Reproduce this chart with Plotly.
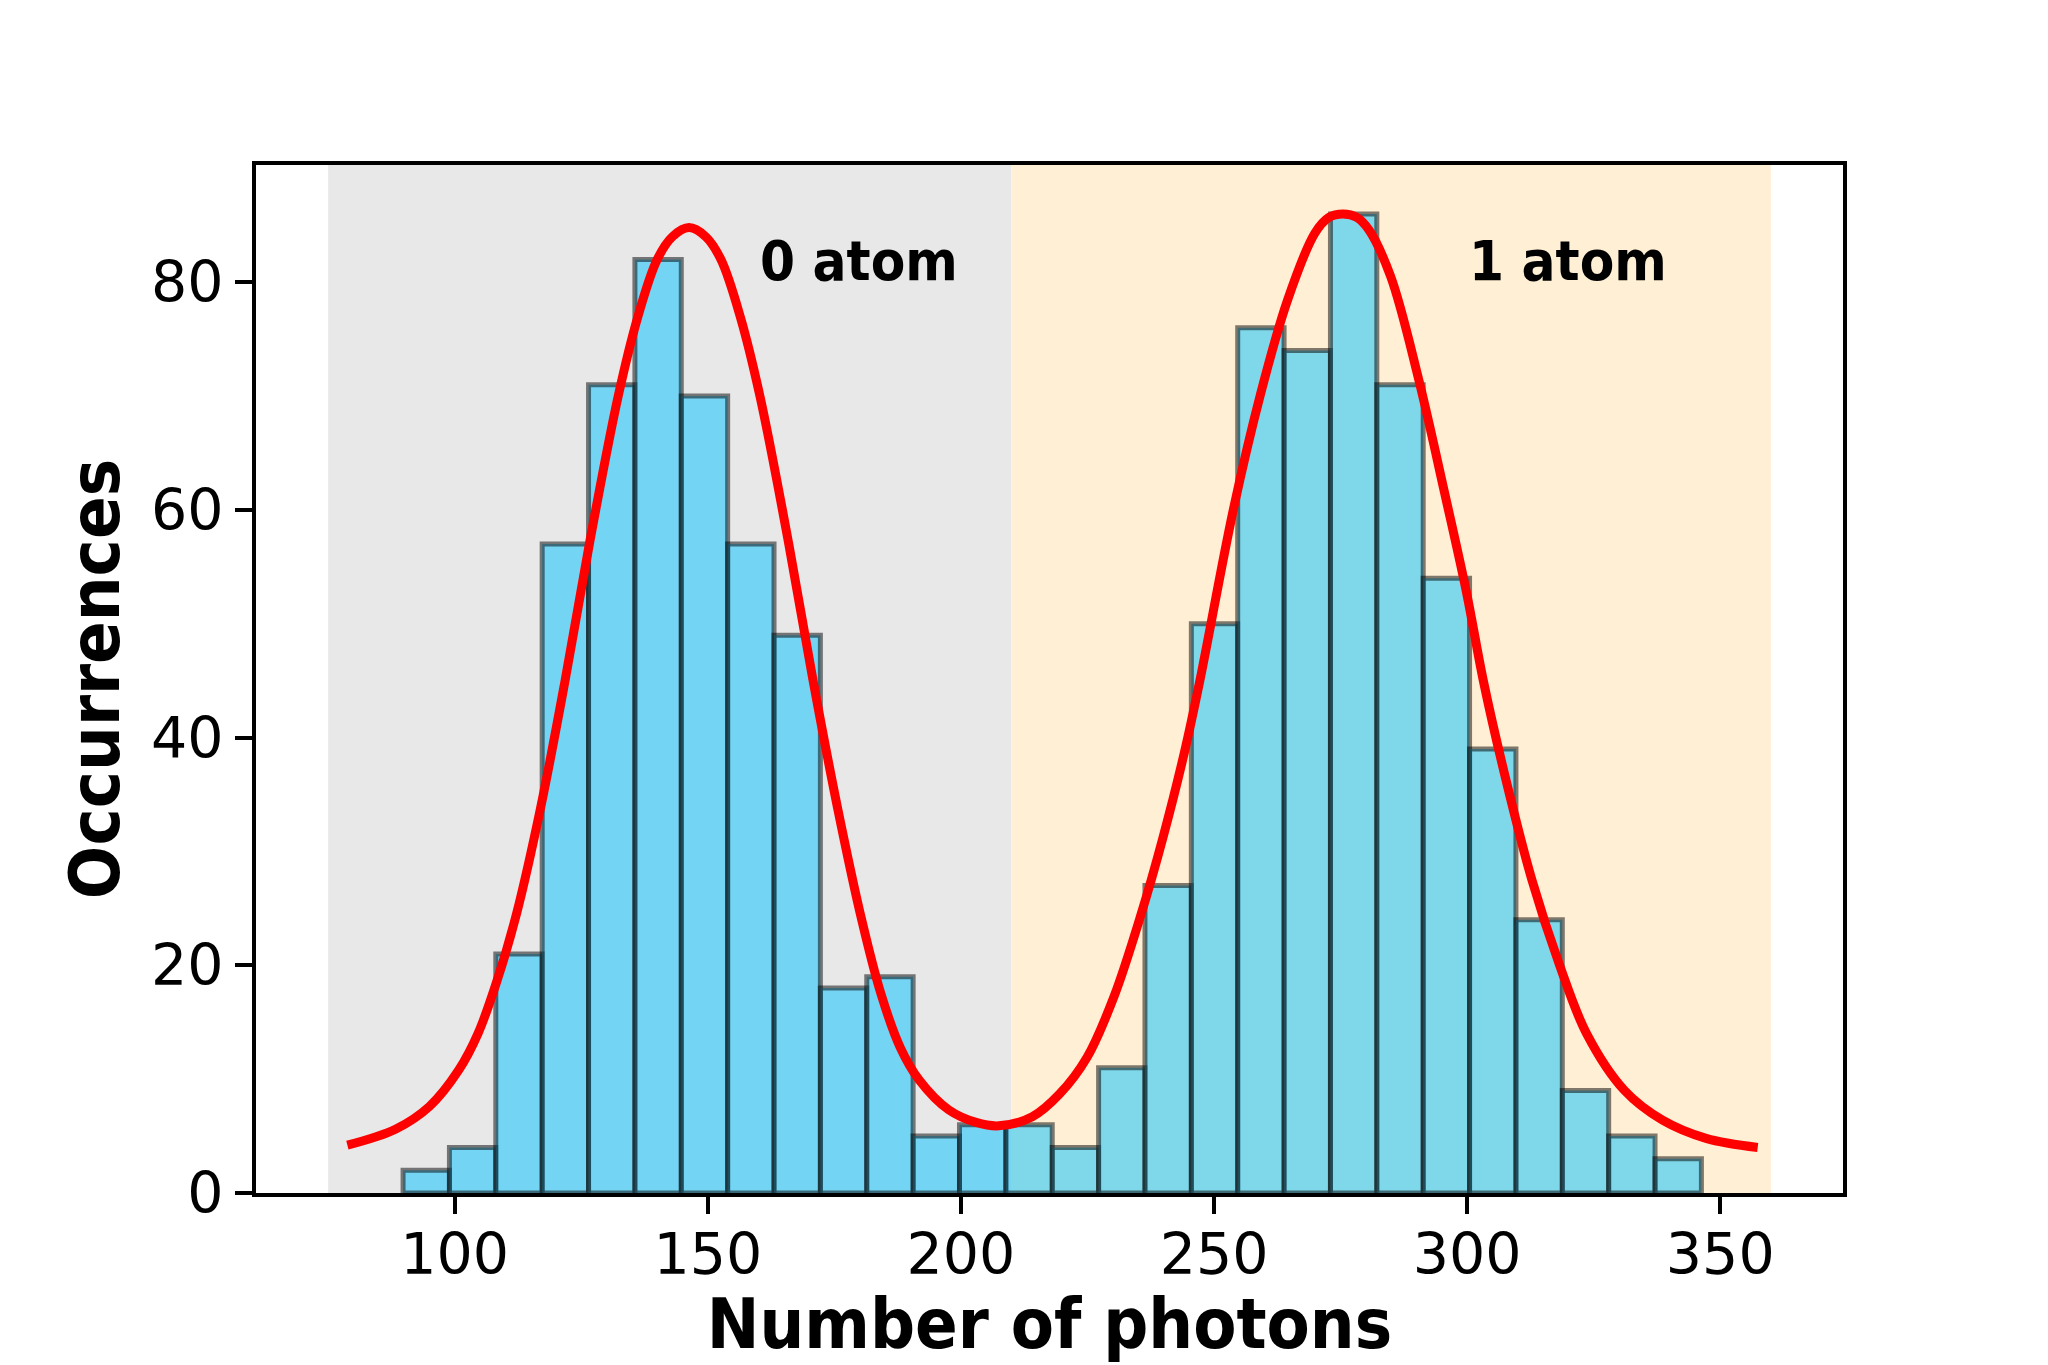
import plotly.graph_objects as go

# ---------------- data ----------------
bin_edges = [89.8, 98.96, 108.12, 117.28, 126.44, 135.6, 144.76, 153.92, 163.08,
             172.24, 181.4, 190.56, 199.72, 208.88, 218.04, 227.2, 236.36, 245.52,
             254.68, 263.84, 273.0, 282.16, 291.32, 300.48, 309.64, 318.8, 327.96,
             337.12, 346.28]
counts = [2, 4, 21, 57, 71, 82, 70, 57, 49, 18, 19, 5, 6, 6, 4, 11, 27, 50,
          76, 74, 86, 71, 54, 39, 24, 9, 5, 3]

fit_x = [78.8, 88.3, 95.0, 100.8, 104.6, 108.4, 112.2, 117.0, 121.8, 126.6, 132.3,
         136.2, 140.0, 143.0, 146.3, 149.6, 152.6, 156.4, 160.3, 166.0, 170.8,
         175.6, 180.4, 184.2, 188.0, 191.8, 197.6, 203.0, 207.5, 214.1, 219.5,
         224.9, 230.2, 235.6, 239.9, 244.2, 247.2, 253.8, 259.2, 264.5, 269.9,
         272.7, 275.5, 278.2, 280.6, 284.9, 290.3, 295.6, 299.9, 303.2, 307.5,
         312.8, 318.2, 323.6, 331.1, 338.6, 347.2, 357.4]
fit_y = [4.2, 5.6, 7.6, 10.8, 14.0, 18.7, 24.5, 33.9, 45.0, 57.0, 70.0,
         77.0, 82.0, 84.0, 84.8, 84.0, 82.0, 77.0, 70.0, 57.0, 45.0,
         33.9, 24.0, 17.5, 12.8, 9.9, 7.3, 6.2, 5.9, 6.7, 8.7,
         11.9, 17.2, 24.5, 31.2, 38.8, 45.0, 60.0, 70.2, 78.4, 84.3,
         85.7, 86.0, 85.7, 84.6, 80.5, 71.7, 61.4, 52.7, 45.0, 36.6,
         27.5, 20.1, 14.0, 9.0, 6.4, 4.8, 4.0]

region_bounds = [75, 210, 360]          # 0 atom: 75-210, 1 atom: 210-360
region_colors = ["#e8e8e8", "#ffefd5"]
label_text = ["0 atom", "1 atom"]
label_x = [160, 300]
label_y = [80, 80]

x_ticks = [100, 150, 200, 250, 300, 350]
y_ticks = [0, 20, 40, 60, 80]
x_range = [60.75, 374.25]
y_range = [0, 90.3]

# ---------------- figure ----------------
BOLD_FONT = "DejaVu Sans Condensed, DejaVu Sans, sans-serif"
TICK_FONT = "DejaVu Sans, sans-serif"

centers = [(bin_edges[i] + bin_edges[i + 1]) / 2 for i in range(len(counts))]
widths = [bin_edges[i + 1] - bin_edges[i] for i in range(len(counts))]

fig = go.Figure()

fig.add_trace(go.Bar(
    x=centers, y=counts, width=widths,
    marker=dict(color="rgba(0,191,255,0.5)",
                line=dict(color="rgba(0,0,0,0.5)", width=5)),
    showlegend=False, hoverinfo="x+y",
))

fig.add_trace(go.Scatter(
    x=fit_x, y=fit_y, mode="lines",
    line=dict(color="#ff0000", width=9, shape="spline", smoothing=1.0),
    showlegend=False,
))

for i, col in enumerate(region_colors):
    fig.add_shape(type="rect", xref="x", yref="paper",
                  x0=region_bounds[i], x1=region_bounds[i + 1], y0=0, y1=1,
                  fillcolor=col, line=dict(width=0), layer="below")

for t, lx, ly in zip(label_text, label_x, label_y):
    fig.add_annotation(x=lx, y=ly, text=t, showarrow=False,
                       xanchor="left", yanchor="bottom", yshift=-13,
                       font=dict(family=BOLD_FONT, size=56, color="black", weight=700))

axis_common = dict(
    showline=True, linecolor="black", linewidth=4, mirror=True,
    showgrid=False, zeroline=False, automargin=False,
    ticks="outside", ticklen=17, tickwidth=4, tickcolor="black",
    tickfont=dict(family=TICK_FONT, size=57, color="black"),
)

fig.update_xaxes(range=x_range, tickvals=x_ticks, ticklabelstandoff=-8,
                 title=dict(text="Number of photons", standoff=28,
                            font=dict(family=BOLD_FONT, size=70, color="black", weight=700)),
                 **axis_common)
fig.update_yaxes(range=y_range, tickvals=y_ticks,
                 title=dict(text="Occurrences", standoff=10,
                            font=dict(family=BOLD_FONT, size=70, color="black", weight=700)),
                 **axis_common)

fig.update_layout(
    width=2048, height=1365,
    margin=dict(l=256, r=205, t=165, b=172),
    plot_bgcolor="white", paper_bgcolor="white",
    barmode="overlay",
)

fig.write_html("out.html")
